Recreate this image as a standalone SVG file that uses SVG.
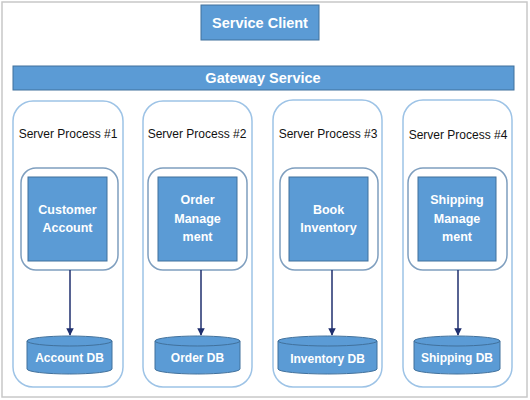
<svg xmlns="http://www.w3.org/2000/svg" width="530" height="400" viewBox="0 0 530 400">
<defs>
<style>
.frame{fill:#fff;stroke:#c8c8c8;stroke-width:1.5}
.blue{fill:#5b9bd5;stroke:#41719c;stroke-width:1}
.proc{fill:#fff;stroke:#9dc3e6;stroke-width:1.5}
.inner{fill:#fff;stroke:#7f9fbf;stroke-width:1.5}
.wt{fill:#fff;font-family:"Liberation Sans",Arial,sans-serif;font-weight:bold;text-anchor:middle;dominant-baseline:central}
.bt{fill:#111;font-family:"Liberation Sans",Arial,sans-serif;font-size:12px;text-anchor:middle;dominant-baseline:central}
.conn{stroke:#1f2f6e;stroke-width:1.5;fill:none;marker-end:url(#arr)}
</style>
<marker id="arr" viewBox="0 0 10 10" refX="9" refY="5" markerWidth="5" markerHeight="5" orient="auto" markerUnits="strokeWidth">
<path d="M0,0 L10,5 L0,10 z" fill="#1f2f6e"/>
</marker>
</defs>
<rect class="frame" x="2" y="2" width="525" height="395"/>
<g id="client">
<rect class="blue" x="201" y="5" width="118" height="35"/>
<text class="wt" x="260" y="23" font-size="14.5">Service Client</text>
</g>
<g id="gateway">
<rect class="blue" x="13" y="66" width="501" height="24"/>
<text class="wt" x="263" y="78" font-size="14.5">Gateway Service</text>
</g>
<g id="process1">
<rect class="proc" x="13" y="101" width="110" height="286" rx="20"/>
<text class="bt" x="68" y="134">Server Process #1</text>
<rect class="inner" x="21" y="168" width="97" height="102" rx="15"/>
</g>
<g id="process2">
<rect class="proc" x="143" y="101" width="109" height="286" rx="20"/>
<text class="bt" x="197" y="134">Server Process #2</text>
<rect class="inner" x="148" y="168" width="99" height="102" rx="15"/>
</g>
<g id="process3">
<rect class="proc" x="273" y="100" width="109" height="287" rx="20"/>
<text class="bt" x="328" y="134">Server Process #3</text>
<rect class="inner" x="280" y="168" width="98" height="102" rx="15"/>
</g>
<g id="process4">
<rect class="proc" x="403" y="100" width="109" height="287" rx="20"/>
<text class="bt" x="458" y="135">Server Process #4</text>
<rect class="inner" x="408" y="168" width="99" height="102" rx="15"/>
</g>
<g id="customer-account">
<rect class="blue" x="28" y="177" width="79" height="84"/>
<text class="wt" x="67.5" font-size="12.5"><tspan x="67.5" y="210">Customer</tspan><tspan x="67.5" y="228">Account</tspan></text>
</g>
<g id="order-management">
<rect class="blue" x="158" y="177" width="79" height="84"/>
<text class="wt" font-size="12.5"><tspan x="197.5" y="200">Order</tspan><tspan x="197.5" y="219">Manage</tspan><tspan x="197.5" y="237">ment</tspan></text>
</g>
<g id="book-inventory">
<rect class="blue" x="289" y="177" width="79" height="84"/>
<text class="wt" font-size="12.5"><tspan x="328.5" y="210">Book</tspan><tspan x="328.5" y="228">Inventory</tspan></text>
</g>
<g id="shipping-management">
<rect class="blue" x="418" y="177" width="78" height="84"/>
<text class="wt" font-size="12.5"><tspan x="457" y="200">Shipping</tspan><tspan x="457" y="219">Manage</tspan><tspan x="457" y="237">ment</tspan></text>
</g>
<g id="account-db">
<path class="blue" d="M27,341 A42.5,5 0 0 1 112,341 L112,369 A42.5,5 0 0 1 27,369 Z"/>
<path d="M27,341 A42.5,5 0 0 0 112,341" fill="none" stroke="#41719c"/>
<text class="wt" x="69.5" y="358" font-size="12">Account DB</text>
</g>
<g id="order-db">
<path class="blue" d="M155,341 A42.5,5 0 0 1 240,341 L240,369 A42.5,5 0 0 1 155,369 Z"/>
<path d="M155,341 A42.5,5 0 0 0 240,341" fill="none" stroke="#41719c"/>
<text class="wt" x="197.5" y="358" font-size="12">Order DB</text>
</g>
<g id="inventory-db">
<path class="blue" d="M278,341 A49.5,5 0 0 1 377,341 L377,369 A49.5,5 0 0 1 278,369 Z"/>
<path d="M278,341 A49.5,5 0 0 0 377,341" fill="none" stroke="#41719c"/>
<text class="wt" x="327.5" y="359" font-size="12">Inventory DB</text>
</g>
<g id="shipping-db">
<path class="blue" d="M414,341 A43,5 0 0 1 500,341 L500,369 A43,5 0 0 1 414,369 Z"/>
<path d="M414,341 A43,5 0 0 0 500,341" fill="none" stroke="#41719c"/>
<text class="wt" x="457" y="358" font-size="12">Shipping DB</text>
</g>
<g id="connectors">
<line class="conn" x1="70" y1="270" x2="70" y2="335"/>
<line class="conn" x1="201" y1="270" x2="201" y2="335"/>
<line class="conn" x1="332" y1="270" x2="332" y2="335"/>
<line class="conn" x1="458" y1="270" x2="458" y2="335"/>
</g>
</svg>
